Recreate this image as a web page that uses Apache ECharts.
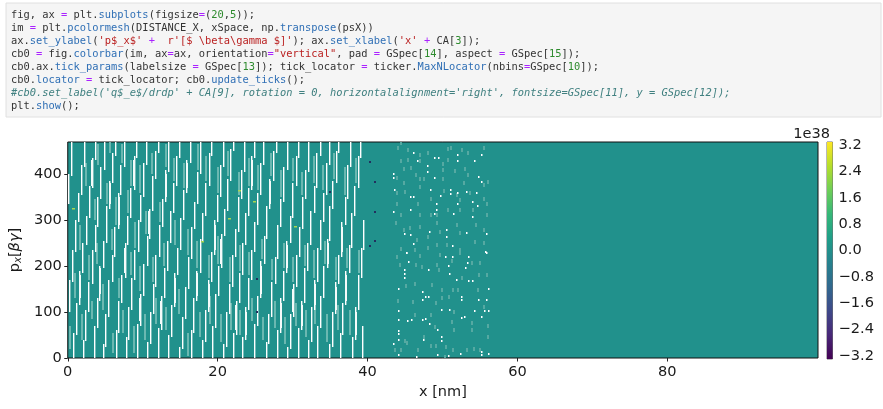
<!DOCTYPE html>
<html><head><meta charset="utf-8">
<style>html,body{margin:0;padding:0;background:#fff}#c{width:883px;height:409px}</style>
<script src="https://cdn.jsdelivr.net/npm/echarts@6/dist/echarts.min.js"></script>
</head><body><div id="c"></div>
<script>
const codeLines = [
"{t|fig, ax }{o|=}{t| plt.}{f|subplots}{t|(figsize}{o|=}{t|(}{n|20}{t|,}{n|5}{t|));}",
"{t|im }{o|=}{t| plt.}{f|pcolormesh}{t|(DISTANCE_X, xSpace, np.}{f|transpose}{t|(psX))}",
"{t|ax.}{f|set_ylabel}{t|(}{s|'p$_x$'}{t| }{o|+}{t|  }{s|r'[$ \\beta\\gamma $]'}{t|); ax.}{f|set_xlabel}{t|(}{s|'x'}{t| }{o|+}{t| CA[}{n|3}{t|]);}",
"{t|cb0 }{o|=}{t| fig.}{f|colorbar}{t|(im, ax}{o|=}{t|ax, orientation}{o|=}{s|\"vertical\"}{t|, pad }{o|=}{t| GSpec[}{n|14}{t|], aspect }{o|=}{t| GSpec[}{n|15}{t|]);}",
"{t|cb0.ax.}{f|tick_params}{t|(labelsize }{o|=}{t| GSpec[}{n|13}{t|]); tick_locator }{o|=}{t| ticker.}{f|MaxNLocator}{t|(nbins}{o|=}{t|GSpec[}{n|10}{t|]);}",
"{t|cb0.}{f|locator}{t| }{o|=}{t| tick_locator; cb0.}{f|update_ticks}{t|();}",
"{c|#cb0.set_label('q$_e$/drdp' + CA[9], rotation = 0, horizontalalignment='right', fontsize=GSpec[11], y = GSpec[12]);}",
"{t|plt.}{f|show}{t|();}"
];
const xTicks = [0,20,40,60,80];
const yTicks = [0,100,200,300,400];
const colorbarTicks = [-3.2,-2.4,-1.6,-0.8,0,0.8,1.6,2.4,3.2];
const colorbarRange = [[-3.3,3.3]];
const viridisStops = ['#440154','#482878','#3e4989','#31688e','#26828e','#1f9e89','#35b779','#6ece58','#b5de2b','#fde725'];

// vertical white streak runs: [x nm, p from, p to], stripe by stripe
const brightRuns = [
[0.1,335,400],[0.5,395,470],
[0.2,100,170],[0.6,165,235],[1.0,230,300],[1.4,295,360],[1.9,355,420],[2.3,415,470],
[0.8,0,55],[1.2,50,120],[1.6,115,190],[2.0,185,250],[2.5,245,310],[2.9,305,375],[3.3,370,435],[3.7,430,470],
[2.1,0,40],[2.4,36,105],[2.8,100,165],[3.3,160,235],[3.7,230,290],[4.0,285,350],[4.4,345,415],[4.9,410,470],
[3.6,0,70],[4.0,65,130],[4.3,125,200],[4.8,195,255],[5.2,250,330],[5.6,325,385],[6.0,380,445],[6.4,440,470],
[4.8,0,30],[5.1,25,95],[5.5,90,170],[6.0,165,225],[6.3,220,285],[6.8,280,360],[7.1,355,420],[7.6,415,470],
[6.5,0,60],[6.8,55,125],[7.2,120,180],[7.7,175,250],[8.0,245,310],[8.4,305,370],[8.9,365,440],[9.2,435,470],
[7.8,0,45],[8.1,40,110],[8.5,105,175],[8.9,170,235],[9.4,230,300],[9.7,295,355],[10.1,350,425],[10.5,420,470],
[9.3,0,75],[9.7,70,140],[10.1,135,205],[10.6,200,265],[10.9,260,325],[11.3,320,395],[11.7,390,450],[12.1,445,470],
[10.7,0,35],[11.1,30,100],[11.5,95,160],[11.8,155,225],[12.3,220,290],[12.7,285,345],[13.1,340,410],[13.5,405,470],
[12.2,0,65],[12.5,60,135],[13.0,130,195],[13.3,190,255],[13.7,250,320],[14.2,315,380],[14.6,375,440],[15.0,435,470],
[13.5,0,50],[13.9,45,115],[14.3,110,185],[14.7,180,240],[15.1,235,305],[15.5,300,365],[15.9,360,430],[16.4,425,470],
[15.0,0,25],[15.3,20,90],[15.8,85,155],[16.1,150,220],[16.5,215,285],[17.0,280,340],[17.3,335,405],[17.8,400,470],
[16.5,0,60],[16.8,55,130],[17.2,125,190],[17.7,185,260],[18.0,255,315],[18.4,310,380],[18.9,375,445],[19.2,440,470],
[18.0,0,40],[18.4,35,105],[18.8,100,170],[19.2,165,230],[19.6,225,300],[20.0,295,355],[20.4,350,420],[20.8,415,470],
[19.4,0,70],[19.7,65,140],[20.2,135,200],[20.5,195,270],[20.9,265,325],[21.4,320,390],[21.8,385,455],[22.2,450,470],
[20.8,0,30],[21.2,25,100],[21.6,95,160],[22.0,155,225],[22.4,220,280],[22.8,275,350],[23.2,345,410],[23.6,405,470],
[22.2,0,55],[22.5,50,125],[22.9,120,185],[23.4,180,250],[23.7,245,315],[24.1,310,370],[24.6,365,440],[25.0,435,470],
[23.4,0,45],[23.8,40,110],[24.2,105,175],[24.6,170,235],[25.0,230,295],[25.4,290,360],[25.8,355,425],[26.2,420,470],
[25.0,0,75],[25.4,70,135],[25.8,130,210],[26.3,205,265],[26.6,260,330],[27.0,325,390],[27.5,385,450],[27.9,445,470],
[26.5,0,35],[26.8,30,95],[27.2,90,165],[27.7,160,220],[28.0,215,290],[28.4,285,345],[28.8,340,415],[29.3,410,470],
[28.0,0,60],[28.4,55,130],[28.8,125,190],[29.2,185,255],[29.7,250,310],[30.0,305,380],[30.5,375,440],[30.8,435,470],
[29.4,0,25],[29.7,20,95],[30.1,90,160],[30.5,155,225],[31.0,220,285],[31.3,280,350],[31.7,345,410],[32.2,405,470],
[30.8,0,65],[31.2,60,125],[31.6,120,195],[32.0,190,250],[32.4,245,320],[32.9,315,375],[33.2,370,445],[33.7,440,470],
[32.2,0,40],[32.5,35,110],[33.0,105,170],[33.3,165,240],[33.7,235,300],[34.2,295,360],[34.5,355,425],[35.0,420,470],
[33.4,0,70],[33.8,65,135],[34.2,130,200],[34.7,195,260],[35.0,255,330],[35.4,325,385],[35.9,380,450],[36.2,445,470],
[35.0,0,30],[35.4,25,100],[35.8,95,165],[36.2,160,225],[36.6,220,295],[37.1,290,350],[37.4,345,420],[37.8,415,470],
[36.4,0,55],[36.7,50,120],[37.1,115,190],[37.6,185,245],[37.9,240,315],[38.3,310,375],[38.8,370,440],[39.1,435,470],
[38.0,0,45],[38.4,40,110],[38.8,105,180],[39.2,175,240],[39.5,235,300],
[39.3,0,70]
];
const thickRuns = [
[1.6,130,180],[4.3,140,195],[5.6,335,380],[7.7,185,240],[9.7,80,130],[10.9,270,320],[12.5,75,125],[14.3,120,175],
[15.9,370,425],[17.2,135,185],[18.8,110,160],[20.5,205,260],[22.5,60,115],[23.8,50,100],[25.8,140,200],[27.0,335,385],
[28.4,65,120],[30.1,100,150],[31.2,70,115],[33.0,115,160],[34.7,205,250],[35.8,105,155],[37.1,125,180],[38.4,50,100],
[3.3,375,430],[6.8,290,350],[8.9,375,430],[13.1,350,400],[19.6,235,290],[24.6,375,430],[29.2,195,245],[36.6,230,285]
];
const paleRuns = [
[0.3,20,70],[0.9,130,185],[1.6,235,290],[2.5,375,425],[1.9,40,95],[2.9,170,225],[3.6,300,345],[4.1,420,465],
[3.2,85,125],[3.9,205,250],[5.2,335,380],[5.6,445,470],[4.7,105,160],[5.9,235,280],[6.4,290,350],[7.2,425,465],
[6.1,10,55],[6.8,130,175],[8.0,315,365],[8.5,375,430],[7.4,55,105],[8.5,180,230],[9.7,360,420],[9.0,240,295],
[8.9,10,70],[9.7,145,200],[10.5,270,320],[11.3,400,445],[10.3,40,95],[11.4,165,220],[12.3,295,340],[13.1,415,465],
[11.8,75,130],[12.9,200,250],[14.2,385,435],[13.1,60,110],[14.3,245,300],[15.5,370,425],[14.9,95,150],[16.1,225,280],
[17.4,410,465],[16.1,5,55],[17.3,195,255],[18.5,385,440],[17.6,45,100],[18.8,175,225],[20.0,360,415],[19.0,75,135],
[20.1,205,265],[21.4,395,450],[20.4,35,95],[21.6,165,220],[22.8,355,405],[21.8,60,120],[23.0,190,245],[24.2,375,435],
[23.0,50,105],[24.2,180,230],[25.4,365,420],[24.6,80,130],[25.9,215,260],[27.1,395,445],[26.1,40,90],[27.3,170,215],
[28.4,350,410],[27.6,65,125],[28.8,195,250],[30.1,385,435],[29.0,30,90],[30.1,165,220],[31.3,355,405],[30.4,70,120],
[31.6,200,245],[32.8,380,440],[31.8,45,105],[32.9,175,235],[34.1,365,420],[33.0,75,130],[34.3,205,255],[35.5,390,445],
[34.6,35,95],[35.8,170,220],[37.0,355,415],[36.0,60,115],[37.2,195,240],[38.4,380,435],[37.6,50,105],[38.8,185,235]
];
// isolated white cells in the 43-56 nm band: [x nm, p]
const brightDots = [
[45.0,174],[45.0,183],[45.0,192],[48.2,191],[51.0,183],[54.0,168],[53.5,168],[44.1,151],[47.3,144],[47.3,126],[47.7,132],[48.2,133],[52.6,133],
[44.1,103],[44.1,83],[44.1,59],[44.1,52],[47.3,83],[47.7,84],[49.9,104],[51.0,104],[52.6,86],[53.0,90],[54.3,102],[55.7,102],[56.2,102],[55.3,90],
[49.9,46],[49.9,38],[47.5,39],[45.9,83],[45.4,81],[44.1,40],[43.5,30],[44.1,6],[48.3,75],[49.4,61],[55.2,6],[55.2,12],[56.2,9],[52.5,9],[50.8,4],[46.6,3],[49.4,6],
[53.5,220],[55.9,229],[51.4,219],[50.4,220],[45.5,209],[45.2,228],[53.4,207],[50.9,201],[53.1,195],[51.9,170],[56.2,151],[52.6,126],[54.8,126],[55.9,126],
[43.5,401],[43.5,392],[43.6,365],[43.5,317],[46.2,445],[46.7,428],[48.0,405],[48.0,418],[48.9,436],[49.5,436],[52.0,441],[52.0,428],[54.3,428],[55.2,441],
[48.9,392],[54.8,394],[55.2,383],[48.4,365],[51.1,356],[51.1,366],[52.0,358],[53.2,362],[54.6,360],[46.1,351],[45.7,351],[49.7,353],[49.2,322],[49.2,336],
[52.0,336],[54.1,340],[54.7,331],[45.7,322],[48.9,314],[54.1,307],[51.5,314],[45.7,267],[45.0,269],[48.3,275],[50.6,264],[50.6,278],[53.2,273],[55.9,269],
[51.4,244],[46.1,249],[45.2,229],[55.8,230]
];
// faint cells in the same band: [x nm, p]
const paleDots = [
[44.5,467],[44.0,456],[45.4,452],[47.0,441],[48.0,445],[50.7,454],[51.1,457],[53.4,445],[55.6,457],[52.6,452],[44.4,428],[45.4,430],[47.0,429],[50.1,423],[50.8,430],
[44.8,412],[45.8,414],[50.1,409],[51.7,406],[53.4,399],[53.0,412],[46.5,399],[43.9,391],[44.8,380],[47.0,389],[50.1,389],[47.5,389],[52.9,381],[55.5,376],[56.1,383],
[47.0,372],[43.9,358],[45.0,362],[50.2,363],[51.9,354],[53.7,360],[55.5,347],[46.7,336],[48.4,347],[52.4,343],[55.9,336],[43.9,336],[49.2,311],[52.4,322],[50.8,322],
[44.4,311],[47.0,311],[48.4,311],[54.1,322],[55.9,311],[43.8,293],[47.0,285],[45.7,283],[49.2,293],[51.9,289],[54.5,290],[55.5,278],[52.4,273],[44.8,278],[49.7,275],
[46.6,256],[48.0,264],[50.6,245],[52.4,235],[55.5,251],[54.4,253],[44.4,238],[49.2,245],[48.1,240],[46.3,235],
[43.9,219],[47.0,222],[49.6,224],[52.3,229],[55.0,206],[54.0,207],[44.3,202],[46.4,202],[47.3,199],[49.5,191],[49.2,202],[51.3,212],[54.9,180],[55.9,180],[52.6,173],
[48.6,159],[49.9,149],[46.3,161],[45.1,156],[51.4,148],[52.1,148],[54.7,149],[44.1,125],[46.0,121],[49.1,119],[49.9,130],[50.9,133],[55.6,111],[48.5,93],[51.6,101],
[53.9,77],[51.3,79],[49.0,68],[46.3,93],[45.0,38],[45.3,32],[47.5,46],[51.6,61],[53.9,61],[56.1,69],[50.5,25],[49.1,26],[48.5,26],[44.5,17],[54.2,19],[55.0,17],[51.4,17],[50.3,3],[43.6,17],[46.7,17],[56.1,46],[53.3,17]
];
const darkDots = [[40.3,426],[41.0,383],[41.0,317],[41.0,254],[40.3,243],[35.0,361],[25.3,172],[25.3,100]];
const yellowDots = [[22.9,363],[24.9,339],[21.6,302],[30.4,285],[0.7,324],[18.0,254]];

const runItem = (w,color)=>(params,api)=>{
  const a=api.coord([api.value(0),api.value(1)]), b=api.coord([api.value(0),api.value(2)]);
  return {type:'rect',shape:{x:Math.round(a[0]-w/2),y:Math.round(b[1]),width:w,height:Math.round(a[1])-Math.round(b[1])},style:{fill:color}};
};
const runSeries=(data,w,color,z)=>({type:'custom',xAxisIndex:0,yAxisIndex:0,clip:true,silent:true,z,
  data,encode:{x:0,y:[1,2]},renderItem:runItem(w,color)});
const dotItem = (w,h,color)=>(params,api)=>{
  const a=api.coord([api.value(0),api.value(1)]);
  return {type:'rect',shape:{x:Math.round(a[0]-w/2),y:Math.round(a[1]-h/2),width:w,height:h},style:{fill:color}};
};
const dotSeries=(data,w,h,color,z)=>({type:'custom',xAxisIndex:0,yAxisIndex:0,clip:true,silent:true,z,
  data,encode:{x:0,y:1},renderItem:dotItem(w,h,color)});

const FONT='"DejaVu Sans"';
const MONO='"DejaVu Sans Mono"';
const INK='#1a1a1a';
const monoStyle=(color,extra)=>Object.assign({fontFamily:MONO,fontSize:10.4,fill:color,color},extra||{});
const chart=echarts.init(document.getElementById('c'),null,{renderer:'canvas'});
chart.setOption({
  animation:false,
  backgroundColor:'#fff',
  grid:[
    {left:67,top:142,width:751,height:216,show:true,backgroundColor:'#21918c',borderColor:'#111',borderWidth:1},
    {left:827,top:142,width:5.5,height:217,show:true,backgroundColor:'transparent',borderColor:'#111',borderWidth:0.6}
  ],
  xAxis:[
    {type:'value',gridIndex:0,min:0,max:100.1,interval:20,name:'x [nm]',nameLocation:'middle',nameGap:22,
     nameTextStyle:{fontFamily:FONT,fontSize:14.5,color:INK},
     axisLine:{show:false},axisTick:{show:true,length:3.5,lineStyle:{color:'#222'},customValues:xTicks},splitLine:{show:false},
     axisLabel:{fontFamily:FONT,fontSize:14.6,color:INK,margin:7,customValues:xTicks}},
    {type:'value',gridIndex:1,min:0,max:1,show:false}
  ],
  yAxis:[
    {type:'value',gridIndex:0,min:0,max:470,interval:100,name:'{n|p}{s|x}{n|[}{g|βγ}{n|]}',nameLocation:'middle',nameGap:33,
     nameTextStyle:{rich:{
       n:{fontFamily:FONT,fontSize:14.6,color:INK},
       s:{fontFamily:FONT,fontStyle:'italic',fontSize:10,color:INK,verticalAlign:'bottom'},
       g:{fontFamily:FONT,fontStyle:'italic',fontSize:14.6,color:INK}}},
     axisLine:{show:false},axisTick:{show:true,length:3.5,lineStyle:{color:'#222'},customValues:yTicks},splitLine:{show:false},
     axisLabel:{fontFamily:FONT,fontSize:14.6,color:INK,margin:6,customValues:yTicks}},
    {type:'value',gridIndex:1,position:'right',min:-3.3,max:3.3,
     axisLine:{show:false},axisTick:{show:true,length:3.5,lineStyle:{color:'#222'},customValues:colorbarTicks},splitLine:{show:false},
     axisLabel:{fontFamily:FONT,fontSize:14.6,color:INK,margin:6,align:'left',customValues:colorbarTicks,
       formatter:v=>(v<0?'\u2212':'')+Math.abs(v).toFixed(1)}}
  ],
  series:[
    runSeries(paleRuns,2,'#6bb8b1',2),
    runSeries(brightRuns,1.4,'#ffffff',4),
    runSeries(thickRuns,2,'#f4fbfa',5),
    dotSeries(paleDots,2,4,'#55a9a2',2),
    dotSeries(brightDots,1.5,2,'#ffffff',4),
    dotSeries(darkDots,2,2,'#22305f',6),
    dotSeries(yellowDots,3,1.5,'#a9d651',6),
    {type:'custom',xAxisIndex:1,yAxisIndex:1,silent:true,clip:true,z:3,data:colorbarRange,encode:{y:[0,1]},
     renderItem:(params,api)=>{
       const t=api.coord([0,api.value(1)]), b=api.coord([1,api.value(0)]);
       return {type:'rect',shape:{x:t[0],y:t[1],width:b[0]-t[0],height:b[1]-t[1]},
         style:{fill:new echarts.graphic.LinearGradient(0,1,0,0,viridisStops.map((c,i)=>({offset:i/(viridisStops.length-1),color:c})))}};
     }}
  ],
  graphic:[
    {type:'rect',silent:true,z:0,shape:{x:6,y:3,width:875,height:114},style:{fill:'#f5f5f5',stroke:'#e0e0e0',lineWidth:1}},
    ...codeLines.map((txt,i)=>({type:'text',silent:true,z:1,x:11,y:15.5+13*i,style:{
      text:txt,verticalAlign:'middle',align:'left',fontFamily:MONO,fontSize:10.4,
      rich:{
        t:monoStyle('#333333'),
        o:monoStyle('#aa22ff'),
        f:monoStyle('#2f6fb5'),
        n:monoStyle('#2e8b2e'),
        s:monoStyle('#ba2121'),
        c:monoStyle('#408080',{fontStyle:'italic'})
      }}})),
    {type:'text',silent:true,x:830,y:134,style:{text:'1e38',align:'right',verticalAlign:'middle',fontFamily:FONT,fontSize:14.6,fill:INK}}
  ]
});
</script></body></html>
